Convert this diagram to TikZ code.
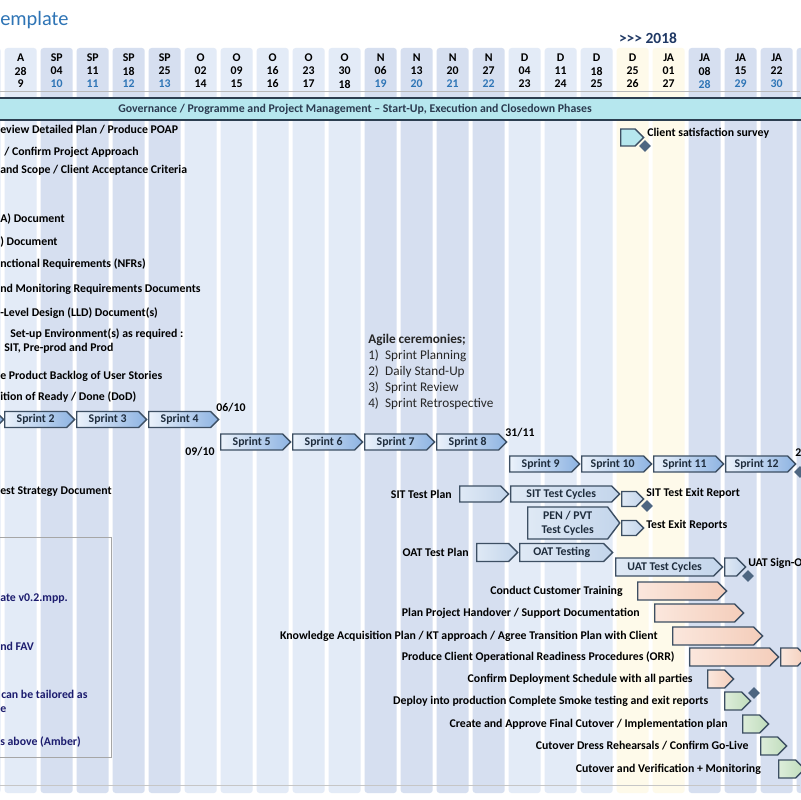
\documentclass[tikz,border=0pt]{standalone}
\usepackage{fontspec}
\setmainfont{Carlito}
\usetikzlibrary{positioning,shapes.symbols,shapes.geometric}

\definecolor{colLight}{HTML}{E3EBF7}
\definecolor{colDark}{HTML}{D6DFF0}
\definecolor{colCream}{HTML}{FEFAEA}
\definecolor{weekblue}{HTML}{2E75B6}
\definecolor{titleblue}{HTML}{2E74B5}
\definecolor{yearnavy}{HTML}{1F3864}
\definecolor{govcyan}{HTML}{B6E7EE}
\definecolor{govline}{HTML}{2C3E50}
\definecolor{govtext}{HTML}{2B3A4F}
\definecolor{barline}{HTML}{3D4F63}
\definecolor{bartext}{HTML}{1F2D3D}
\definecolor{sprintlight}{HTML}{EBF2FB}
\definecolor{sprintdark}{HTML}{8DB3E2}
\definecolor{testlight}{HTML}{DFE9F5}
\definecolor{testdark}{HTML}{C3D5EB}
\definecolor{peachlight}{HTML}{FBE7DD}
\definecolor{peach}{HTML}{F4CDBA}
\definecolor{greenlight}{HTML}{DDEDDA}
\definecolor{green}{HTML}{BFDCBB}
\definecolor{msblue}{HTML}{4E6681}
\definecolor{notenavy}{HTML}{1C1C6E}
\definecolor{agiletext}{HTML}{262626}

\newcommand{\px}{0.025cm}

\begin{document}
\begin{tikzpicture}[x=0.025cm, y=-0.025cm, font=\fontsize{8.4}{10}\selectfont\bfseries]
    \tikzstyle{column}=[rounded corners=2pt, minimum width=32*\px, minimum height=745*\px, inner sep=0pt]
    \tikzstyle{hdr}=[inner sep=0pt]
    \tikzstyle{lbl}=[inner sep=0pt, text=black]
    \tikzstyle{note}=[lbl, anchor=west, text=notenavy]
    \tikzstyle{task}=[signal, signal to=east, signal pointer angle=90, draw=barline, line width=1pt, inner sep=0pt, anchor=west, text=bartext]
    \tikzstyle{sprint}=[task, left color=sprintlight, right color=sprintdark, minimum height=16*\px]
    \tikzstyle{testbar}=[task, left color=testlight, right color=testdark, minimum height=16*\px]
    \tikzstyle{peachbar}=[task, left color=peachlight, right color=peach, minimum height=18*\px]
    \tikzstyle{greenbar}=[task, left color=greenlight, right color=green, minimum height=18*\px]
    \tikzstyle{milestone}=[diamond, fill=msblue, minimum size=12*\px, inner sep=0pt]

    \newcommand{\colsep}{36}

    \useasboundingbox (0,0) rectangle (800,800);
    \fill[white] (0,0) rectangle (800,800);

    % Draw the week columns
    \foreach \k/\shade in {-1/colLight,0/colLight,1/colDark,2/colDark,3/colDark,4/colDark,
                           5/colLight,6/colLight,7/colLight,8/colLight,9/colLight,
                           10/colDark,11/colDark,12/colDark,13/colDark,
                           14/colLight,15/colLight,16/colLight,17/colCream,18/colCream,
                           19/colDark,20/colDark,21/colDark,22/colDark}
        \node[column, fill=\shade] (col-\k) at ({20.7+\k*\colsep},420.5) {};

    % Draw the column headers (month, day, week)
    \foreach \k/\mon/\dd/\wcol in {0/A/28/black,1/SP/04/weekblue,2/SP/11/weekblue,3/SP/18/weekblue,
                                   4/SP/25/weekblue,5/O/02/black,6/O/09/black,7/O/16/black,
                                   8/O/23/black,9/O/30/black,10/N/06/weekblue,11/N/13/weekblue,
                                   12/N/20/weekblue,13/N/27/weekblue,14/D/04/black,15/D/11/black,
                                   16/D/18/black,17/D/25/black,18/JA/01/black,19/JA/08/weekblue,
                                   20/JA/15/weekblue,21/JA/22/weekblue}
    {
        \pgfmathtruncatemacro{\wk}{9+\k}
        \node[hdr] (M-\k) at ({20.7+\k*\colsep},58) {\mon};
        \node[hdr] (D-\k) at ({20.7+\k*\colsep},71) {\dd};
        \node[hdr, text=\wcol] (W-\k) at ({20.7+\k*\colsep},84) {\wk};
    }

    \draw[gray!55, line width=0.6pt] (0,91) -- (800,91);
    \draw[gray!45, line width=0.6pt] (0,785) -- (800,785);

    % Title and year marker
    \node[anchor=west, inner sep=0pt, text=titleblue, font=\fontsize{14.5}{16}\selectfont\mdseries] (title) at (0,20) {emplate};
    \node[inner sep=0pt, text=yearnavy, font=\fontsize{11}{13}\selectfont\bfseries] (year) at (648,38) {>{}>{}> 2018};

    % Governance bar
    \node[fill=govcyan, draw=govline, line width=1.3pt, minimum width=900*\px, minimum height=22*\px, inner sep=0pt] (gov) at (355,109) {};
    \node[inner sep=0pt, text=govtext] (govtxt) at (355,109) {Governance / Programme and Project Management -- Start-Up, Execution and Closedown Phases};

    % Left hand task descriptions
    \node[lbl, anchor=west] (t1) at (0,130) {eview Detailed Plan / Produce POAP};
    \node[lbl, anchor=west] (t2) at (4,152) {/ Confirm Project Approach};
    \node[lbl, anchor=west] (t3) at (0,170) {and Scope / Client Acceptance Criteria};
    \node[lbl, anchor=west] (t4) at (0,219) {A) Document};
    \node[lbl, anchor=west] (t5) at (0,242) {) Document};
    \node[lbl, anchor=west] (t6) at (0,264) {nctional Requirements (NFRs)};
    \node[lbl, anchor=west] (t7) at (0,289) {nd Monitoring Requirements Documents};
    \node[lbl, anchor=west] (t8) at (0,313) {-Level Design (LLD) Document(s)};
    \node[lbl, anchor=west] (t9) at (10,334) {Set-up Environment(s) as required :};
    \node[lbl, anchor=west] (t10) at (4,348) {SIT, Pre-prod and Prod};
    \node[lbl, anchor=west] (t11) at (0,376) {e Product Backlog of User Stories};
    \node[lbl, anchor=west] (t12) at (0,397) {ition of Ready / Done (DoD)};
    \node[lbl, anchor=west] (t13) at (0,492) {est Strategy Document};

    % Notes box
    \draw[gray!70, line width=0.5pt] (-5,537) rectangle (111,757);
    \node[note] (n1) at (0,599) {ate v0.2.mpp.};
    \node[note] (n2) at (0,646) {nd FAV};
    \node[note] (n3) at (1,694) {can be tailored as};
    \node[note] (n4) at (0,710) {e};
    \node[note] (n5) at (0,742) {s above (Amber)};

    % Agile ceremonies
    \node[anchor=north west, align=left, inner sep=0pt, text=agiletext, font=\fontsize{9.4}{11.4}\selectfont\mdseries] (agile) at (368,334)
        {\textbf{Agile ceremonies;}\\
         \makebox[12pt][l]{1)}Sprint Planning\\
         \makebox[12pt][l]{2)}Daily Stand-Up\\
         \makebox[12pt][l]{3)}Sprint Review\\
         \makebox[12pt][l]{4)}Sprint Retrospective};

    % Draw the sprints
    \node[sprint, minimum width=70*\px] (S-1) at (-67,419.5) {};
    \foreach \n/\x/\y in {2/4/419.5,3/76/419.5,4/148/419.5,5/220/442,6/292/442,7/364/442,8/436/442,
                          9/509/464,10/581/464,11/653/464,12/725/464}
        \node[sprint, minimum width=70*\px] (S-\n) at (\x,\y) {Sprint \n};

    \node[lbl] (d1) at (231,408) {06/10};
    \node[lbl] (d2) at (200,452) {09/10};
    \node[lbl] (d3) at (520,433) {31/11};
    \node[lbl, anchor=west] (d4) at (795,453) {2};
    \node[milestone] (ms5) at (800,472) {};

    % Client satisfaction survey
    \node[task, fill=govcyan, minimum width=23*\px, minimum height=17*\px] (css) at (620,137.5) {};
    \node[milestone] (ms1) at (645,146) {};
    \node[lbl, anchor=west] (csstxt) at (647,133) {Client satisfaction survey};

    % Testing phases
    \node[testbar, minimum width=49*\px] (sitplan) at (459,494) {};
    \node[lbl, left=5pt of sitplan] {SIT Test Plan};
    \node[testbar, minimum width=109*\px] (sitcyc) at (510,494) {SIT Test Cycles};
    \node[testbar, minimum width=22*\px, minimum height=15*\px] (sitexit) at (621,499) {};
    \node[milestone] (ms2) at (647,506) {};
    \node[lbl, anchor=west] (sitexittxt) at (646,493) {SIT Test Exit Report};

    \node[testbar, minimum width=92*\px, minimum height=32*\px, signal pointer angle=106, align=center] (pen) at (527,523) {PEN / PVT\\Test Cycles};
    \node[testbar, minimum width=22*\px, minimum height=15*\px] (penexit) at (621,528) {};
    \node[lbl, anchor=west] (penexittxt) at (646,525) {Test Exit Reports};

    \node[testbar, minimum width=41*\px, minimum height=18*\px] (oatplan) at (476,552.5) {};
    \node[lbl, left=5pt of oatplan] {OAT Test Plan};
    \node[testbar, minimum width=93*\px, minimum height=18*\px] (oattest) at (519,552.5) {OAT Testing};

    \node[testbar, minimum width=107*\px, minimum height=18*\px] (uatcyc) at (615,567) {UAT Test Cycles};
    \node[testbar, minimum width=21*\px, minimum height=18*\px] (uatoff) at (724,567) {};
    \node[milestone] (ms3) at (748,576) {};
    \node[lbl, anchor=west] (uatofftxt) at (748,563) {UAT Sign-O};

    % Handover and readiness
    \node[peachbar, minimum width=89*\px] (cct) at (637,591) {};
    \node[lbl, left=10pt of cct] {Conduct Customer Training};
    \node[peachbar, minimum width=89*\px] (pph) at (654,613) {};
    \node[lbl, left=10pt of pph] {Plan Project Handover / Support Documentation};
    \node[peachbar, minimum width=90*\px] (kap) at (672,636) {};
    \node[lbl, left=10pt of kap] {Knowledge Acquisition Plan / KT approach / Agree Transition Plan with Client};
    \node[peachbar, minimum width=89*\px] (orr) at (689,657) {};
    \node[peachbar, minimum width=26*\px] (orr2) at (780,657) {};
    \node[lbl, left=10pt of orr] {Produce Client Operational Readiness Procedures (ORR)};
    \node[peachbar, minimum width=26*\px] (cds) at (707,679) {};
    \node[lbl, left=10pt of cds] {Confirm Deployment Schedule with all parties};

    % Deployment and cutover
    \node[greenbar, minimum width=26*\px] (dep) at (724,701) {};
    \node[lbl, left=11pt of dep] {Deploy into production Complete Smoke testing and exit reports};
    \node[milestone] (ms4) at (754,693) {};
    \node[greenbar, minimum width=26*\px] (cap) at (742,724) {};
    \node[lbl, left=10pt of cap] {Create and Approve Final Cutover / Implementation plan};
    \node[greenbar, minimum width=26*\px] (cdr) at (760,746) {};
    \node[lbl, left=8pt of cdr] {Cutover Dress Rehearsals / Confirm Go-Live};
    \node[greenbar, minimum width=26*\px] (cav) at (778,769) {};
    \node[lbl, left=12pt of cav] {Cutover and Verification + Monitoring};
\end{tikzpicture}
\end{document}
